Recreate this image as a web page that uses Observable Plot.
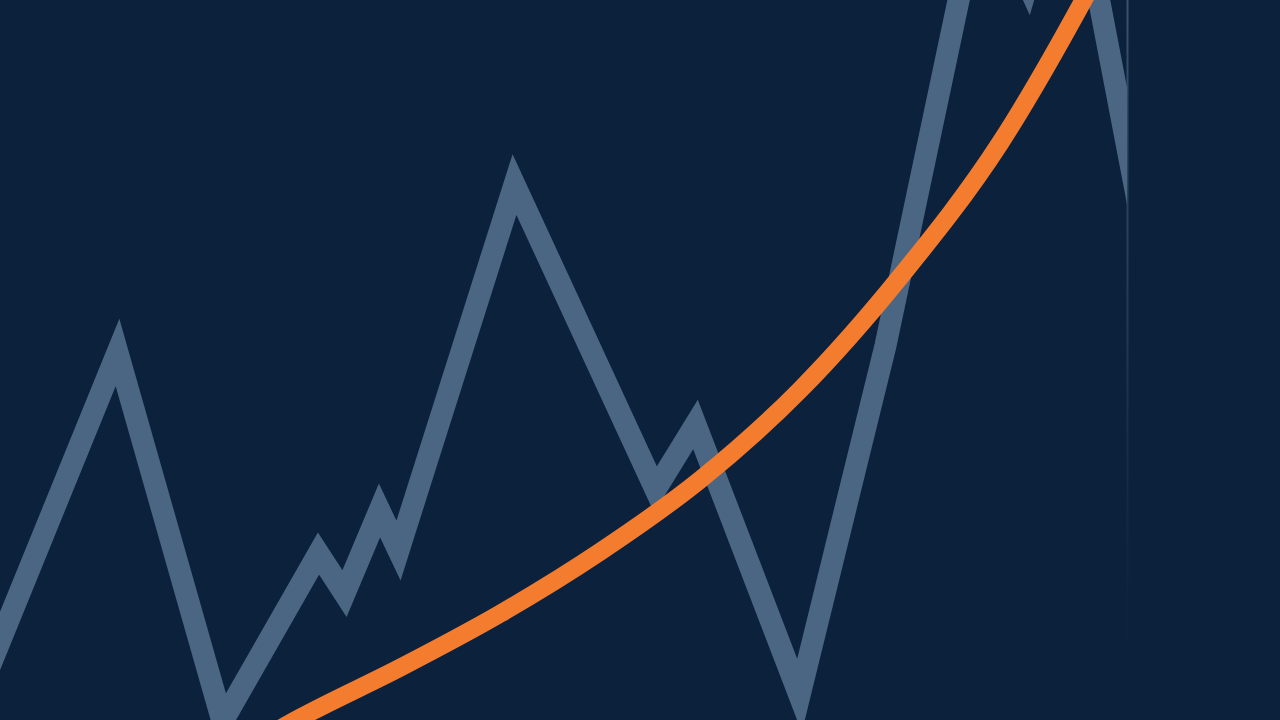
<!DOCTYPE html>
<html>
<head>
<meta charset="utf-8">
<script src="https://cdn.jsdelivr.net/npm/d3@7"></script>
<script src="https://cdn.jsdelivr.net/npm/@observablehq/plot@0.6"></script>
<style>
  html, body { margin: 0; padding: 0; background: #0c213b; overflow: hidden; }
  #chart svg { display: block; background: linear-gradient(90deg, #0c223c 0, #0b213b 1127px, #0b1f39 1127px, #0b1e38 100%); }
</style>
</head>
<body>
<div id="chart"></div>
<script>
// Volatile series (x in time units, y in value units)
const volX = [-3.9, 11.7, 22.2, 31.8, 34.4, 37.9, 39.8, 51.4, 65.5, 69.5, 79.9, 88.5, 95.8, 98.5, 102.7, 106.8, 116.0];
const volY = [-1.5, 36.8, -0.1, 16.7, 12.7, 21.0, 17.0, 53.6, 23.1, 29.6, 2.5, 37.5, 72.0, 83.0, 73.7, 88.0, 40.0];

// Smooth growth trend
const trendX = [25.0, 30.0, 40.0, 50.0, 60.0, 70.0, 80.0, 90.0, 100.0, 108.5, 112.0];
const trendY = [-2.5, 0.3, 5.3, 10.7, 16.9, 24.1, 33.1, 44.4, 57.8, 72.4, 79.0];

// Edge marker
const edgeX = [112.7];

const volatile = volX.map((x, i) => ({x, y: volY[i]}));
const trend = trendX.map((x, i) => ({x, y: trendY[i]}));

const chart = Plot.plot({
  width: 1280,
  height: 720,
  marginLeft: 0,
  marginTop: 0,
  marginBottom: 0,
  marginRight: 153,
  x: {domain: [0, 112.7], axis: null},
  y: {domain: [0, 72], axis: null},
  style: {background: "transparent", overflow: "hidden"},
  marks: [
    Plot.ruleX(edgeX, {stroke: "url(#fade)", strokeWidth: 2}),
    Plot.line(volatile, {
      x: "x", y: "y",
      stroke: "#4b6682",
      strokeWidth: 22,
      strokeLinejoin: "miter",
      strokeMiterlimit: 10,
      strokeLinecap: "butt",
      curve: "linear",
      clip: true
    }),
    Plot.line(trend, {
      x: "x", y: "y",
      stroke: "#f47c2f",
      strokeWidth: 18,
      strokeLinecap: "butt",
      curve: "monotone-x"
    })
  ]
});

const svg = d3.select(chart);
const grad = svg.insert("defs", ":first-child")
  .append("linearGradient")
  .attr("id", "fade")
  .attr("gradientUnits", "userSpaceOnUse")
  .attr("x1", 0).attr("y1", 0).attr("x2", 0).attr("y2", 720);
grad.append("stop").attr("offset", "0%").attr("stop-color", "#3d5873").attr("stop-opacity", 0.9);
grad.append("stop").attr("offset", "45%").attr("stop-color", "#2f4a66").attr("stop-opacity", 0.6);
grad.append("stop").attr("offset", "80%").attr("stop-color", "#1d3652").attr("stop-opacity", 0.2);
grad.append("stop").attr("offset", "100%").attr("stop-color", "#0c223c").attr("stop-opacity", 0);

document.getElementById("chart").appendChild(chart);
</script>
</body>
</html>
